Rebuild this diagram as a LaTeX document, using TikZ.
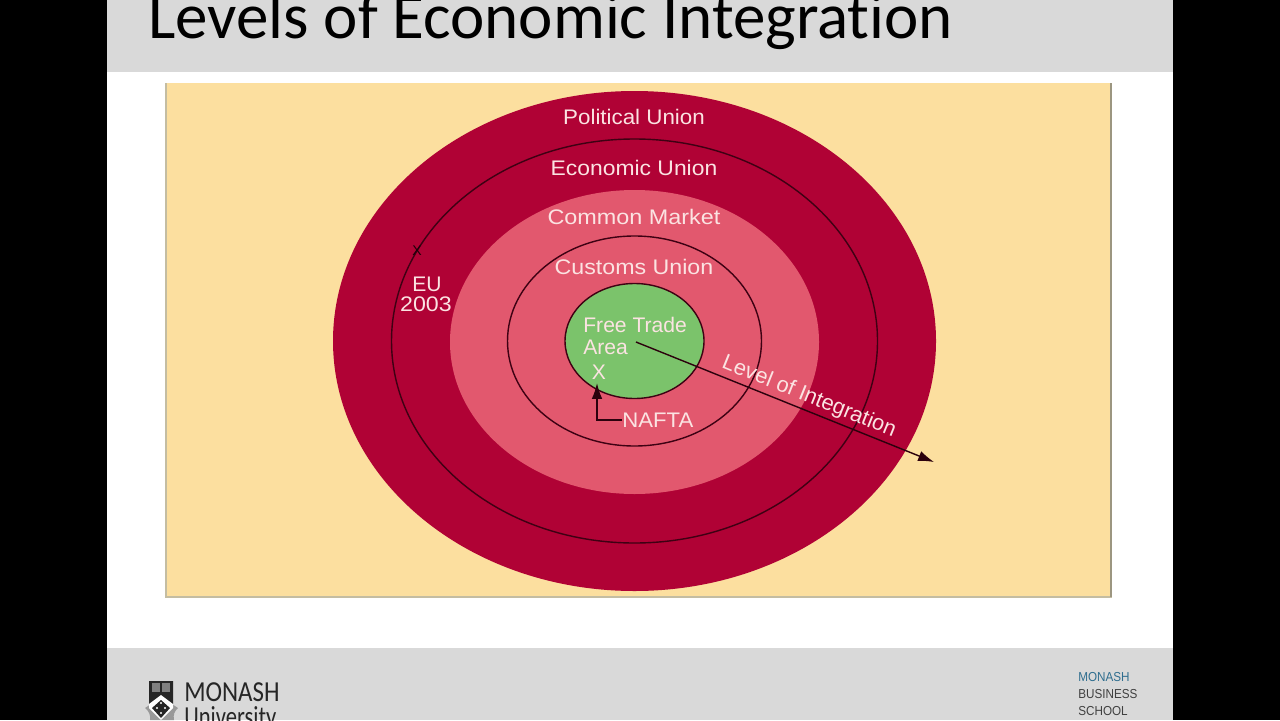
\documentclass[tikz,border=0pt]{standalone}
\usepackage{fontspec}
\setmainfont{Liberation Sans}
\newfontfamily\titlefont[Ligatures=NoCommon]{Carlito}
\usetikzlibrary{arrows.meta}
\tikzset{>={Latex[length=9pt,width=6pt]}}
\definecolor{slidegray}{HTML}{D9D9D9}
\definecolor{panelcream}{HTML}{FCDF9F}
\definecolor{paneledge}{HTML}{C4BDA2}
\definecolor{panelshade}{HTML}{9C9680}
\definecolor{ringdark}{HTML}{B00235}
\definecolor{ringpink}{HTML}{E2586E}
\definecolor{ringgreen}{HTML}{7BC36B}
\definecolor{labelpink}{HTML}{FBE3E2}
\definecolor{monashblue}{HTML}{2F6E8F}
\tikzset{
    ringlabel/.style={text=labelpink, inner sep=0pt, font=\fontsize{12}{14}\selectfont},
    footertext/.style={inner sep=0pt, anchor=west, text=black!75, xscale=0.9, font=\fontsize{7.4}{9}\selectfont},
    ringline/.style={draw=black!65!ringdark, line width=0.8pt},
    crestline/.style={inner sep=0pt, anchor=west, text=black!85, font=\titlefont}
}

\begin{document}
\begin{tikzpicture}[x=0.02cm, y=-0.02cm]
    \useasboundingbox (0, 0) rectangle (1280, 720);
    \clip (0, 0) rectangle (1280, 720);
    \fill[black] (0, 0) rectangle (1280, 720);
    \fill[white] (107, 0) rectangle (1173, 720);
    \fill[slidegray] (107, 0) rectangle (1173, 72);
    \fill[slidegray] (107, 648) rectangle (1173, 720);
    \node[anchor=base west, inner sep=0pt, font=\titlefont\fontsize{37}{39}\selectfont] (title) at (148, 38) {Levels of Economic Integration};
    \fill[panelcream] (166, 83) rectangle (1112, 597);
    \draw[paneledge, line width=1pt] (166, 83) -- (166, 597) -- (1112, 597);
    \draw[panelshade, line width=1.6pt] (1111, 83) -- (1111, 597);
    \fill[ringdark] (634.5, 341) ellipse [x radius=301.5, y radius=250];
    \draw[ringline] (634.5, 341) ellipse [x radius=243, y radius=202];
    \fill[ringpink] (634.5, 342) ellipse [x radius=184.5, y radius=152];
    \draw[ringline] (634.5, 341) ellipse [x radius=127, y radius=105];
    \draw[ringline, fill=ringgreen] (634.5, 341) ellipse [x radius=69.5, y radius=57.5];
    \node[ringlabel, xscale=1.06] (political) at (634, 117) {Political Union};
    \node[ringlabel, xscale=1.085] (economic) at (634, 168) {Economic Union};
    \node[ringlabel, xscale=1.11] (common) at (634, 217) {Common Market};
    \node[ringlabel, xscale=1.1] (customs) at (634, 267) {Customs Union};
    \node[ringlabel, anchor=west] (free) at (583, 325) {Free Trade};
    \node[ringlabel, anchor=west] (area) at (583, 347) {Area};
    \node[ringlabel] (xmark) at (599, 372) {X};
    \node[ringlabel, anchor=west, xscale=1.05] (nafta) at (622, 420) {NAFTA};
    \node[ringlabel] (eu) at (427, 284) {EU};
    \node[ringlabel, xscale=1.1] (year) at (426, 304) {2003};
    \node[inner sep=0pt, text=black!85!ringdark, font=\fontsize{8}{9}\selectfont] (eumark) at (417, 251) {X};
    \node[ringlabel, rotate=-22, font=\fontsize{12.4}{14}\selectfont] (level) at (809, 397) {Level of Integration};
    \coordinate (levelstart) at (636, 342);
    \coordinate (levelend) at (934, 462);
    \coordinate (naftaend) at (597, 383);
    \draw[->, black!75!ringdark, line width=0.8pt] (levelstart) -- (levelend);
    \draw[->, black!75!ringdark, line width=0.9pt] (nafta.west) -| (naftaend);
    \fill[black!40] (145, 708) to[bend left=30] (150, 720) -- (174, 720) to[bend left=30] (178, 708) -- (172, 704) -- (151, 704) -- cycle;
    \fill[black!85] (149, 681) -- (173, 681) -- (173, 704) -- (161, 720) -- (149, 704) -- cycle;
    \fill[black!50] (152, 683) rectangle (160, 692);
    \fill[black!50] (162, 683) rectangle (170, 692);
    \fill[white] (161, 695) -- (173, 704) -- (173, 708) -- (161, 720) -- (149, 708) -- (149, 704) -- cycle;
    \fill[black!85] (161, 700) -- (170, 708) -- (161, 718) -- (152, 708) -- cycle;
    \foreach \dotx/\doty in {161/703, 157/708, 165/708, 161/713}
        \fill[white] (\dotx, \doty) circle [radius=1.2];
    \node[crestline, xscale=0.86, font=\titlefont\fontsize{16.5}{18}\selectfont] (monash) at (184, 692) {MONASH};
    \node[crestline, xscale=0.78, font=\titlefont\fontsize{16.5}{18}\selectfont] (university) at (184, 719) {University};
    \node[footertext, text=monashblue] (school1) at (1078, 677) {MONASH};
    \node[footertext] (school2) at (1078, 694) {BUSINESS};
    \node[footertext] (school3) at (1078, 711) {SCHOOL};
\end{tikzpicture}
\end{document}
